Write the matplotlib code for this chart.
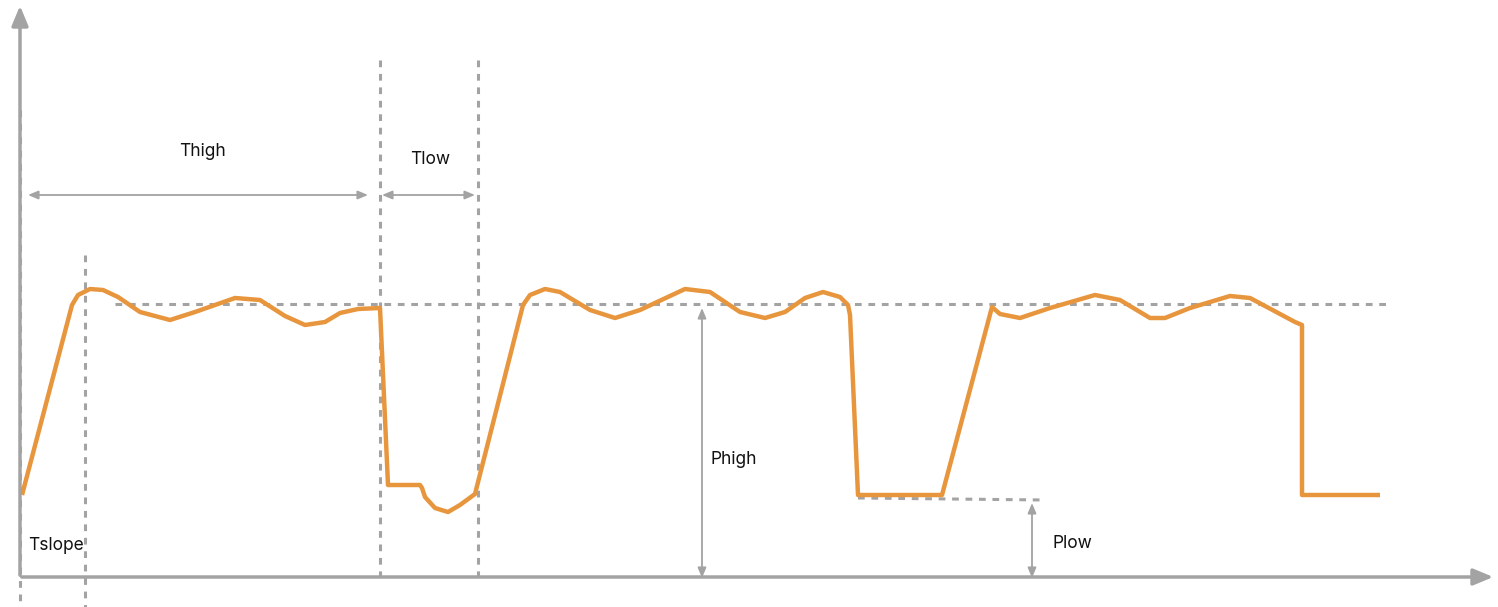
import matplotlib
matplotlib.use("Agg")
import matplotlib.pyplot as plt

# signal polyline (pixel coordinates of the diagram)
sig_x = [22,72,78,90,103,118,140,170,195,235,260,285,305,325,340,358,380,
         388,420,422,425,435,448,460,475,
         523,530,545,560,590,615,640,685,710,740,765,785,805,823,840,848,850,
         858,942,992,1000,1020,1050,1095,1120,1150,1165,1190,1230,1250,1280,1295,1302,1302,1380]
sig_y = [495,305,295,289,290,297,312,320,312,298,300,316,325,322,313,309,308,
         485,485,488,497,508,512,505,494,
         305,295,289,292,310,318,310,289,292,312,318,312,298,292,297,305,315,
         495,495,307,314,318,308,295,300,318,318,308,296,298,314,322,325,495,495]

labels = ["Thigh", "Tlow", "Phigh", "Plow", "Tslope"]
label_x = [202, 430, 734, 1072, 56]
label_y = [151, 159, 459, 543, 545]

GRAY = "#a3a3a3"
ORANGE = "#e8963e"

fig = plt.figure(figsize=(14.98, 6.07), dpi=100)
ax = fig.add_axes([0, 0, 1, 1])
ax.set_xlim(0, 1498)
ax.set_ylim(607, 0)
ax.axis("off")

# dashed guides
dash = dict(color=GRAY, lw=2.2, ls=(0, (2.2, 2.2)))
ax.plot([20, 20], [110, 607], **dash)
ax.plot([85, 85], [255, 607], **dash)
ax.plot([380, 380], [60, 577], **dash)
ax.plot([478, 478], [60, 577], **dash)
ax.plot([115, 1390], [304, 304], **dash)
ax.plot([858, 1045], [498, 500], **dash)

# axes arrows
ax.annotate("", xy=(20, 3), xytext=(20, 578),
            arrowprops=dict(arrowstyle="-|>,head_length=1.2,head_width=0.5", color=GRAY, lw=2.5))
ax.annotate("", xy=(1496, 577), xytext=(19, 577),
            arrowprops=dict(arrowstyle="-|>,head_length=1.2,head_width=0.5", color=GRAY, lw=2.5))

# measurement arrows
arr = dict(arrowstyle="<|-|>,head_length=0.6,head_width=0.25", color=GRAY, lw=1.3, shrinkA=0, shrinkB=0)
ax.annotate("", xy=(28, 195), xytext=(368, 195), arrowprops=arr)
ax.annotate("", xy=(382, 195), xytext=(475, 195), arrowprops=arr)
ax.annotate("", xy=(702, 308), xytext=(702, 578), arrowprops=arr)
ax.annotate("", xy=(1032, 503), xytext=(1032, 578), arrowprops=arr)

ax.plot(sig_x, sig_y, color=ORANGE, lw=3.2, solid_joinstyle="round", solid_capstyle="butt")

for t, x, y in zip(labels, label_x, label_y):
    ax.text(x, y, t, ha="center", va="center", fontsize=12.5, family="Inter", color="#111111")

fig.savefig("out.png", dpi=100)
